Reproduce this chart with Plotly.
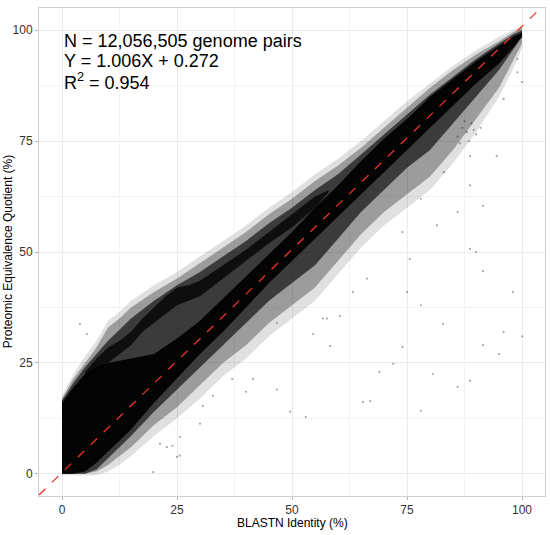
import plotly.graph_objects as go

# Band outlines (x = BLASTN identity %, y = PEQ %)
band_x = [0, 2.5, 5, 7.5, 10, 12.5, 15, 20, 25, 30, 35, 40, 45, 50, 55, 60,
          65, 70, 75, 80, 85, 90, 95, 98, 100]
fringe_hi = [17.5, 22.5, 26.5, 30, 34.5, 36.5, 39, 42.5, 45.5, 49, 52.5, 56,
             60, 63.5, 67.5, 71, 75, 79.5, 84, 88, 92, 95.5, 98.5, 100, 101]
fringe_lo = [-0.3, -0.3, -0.3, -0.3, 0.5, 2, 4, 8.5, 12.5, 17, 22, 26, 31, 35,
             39, 45, 51, 56, 60, 64, 70, 77, 85, 91, 96]
halo_hi = [17, 21.5, 25, 28.5, 33, 35, 37.5, 41, 44, 47.5, 51, 54.5, 58.5, 62,
           66, 69.5, 73.5, 78, 82.5, 87, 91, 94.5, 97.5, 99.5, 100.5]
halo_lo = [0, 0, 0, 0.5, 2, 4, 6, 11, 15, 20, 25, 29, 34, 38, 42, 48, 54, 59,
           63, 67, 73, 80, 87, 93, 97]
mid_hi = [16.5, 20.5, 24, 27, 30, 32.5, 35, 39, 42.5, 45.5, 49, 52.5, 56.5, 60,
          64, 67.5, 72, 76.5, 81, 85.5, 89.5, 93.5, 97, 99, 100]
mid_lo = [0, 0, 0, 1, 3.5, 6, 8.5, 14, 19, 24, 29, 34, 39, 43, 47, 53, 59, 64,
          69, 73, 79, 85, 91, 95.5, 98.5]
core_hi = [16, 19.5, 22.5, 24, 25, 25.5, 26, 27, 30.5, 34.5, 39.5, 44.5, 49.5,
           54.5, 60, 65, 70.5, 75.5, 80, 85, 89, 93, 96.5, 98.5, 99.5]
core_lo = [0, 0, 0.5, 2.5, 5, 7.5, 10, 16, 21.5, 27, 32, 37.5, 43, 48, 53, 58,
           63, 68, 73, 78, 83, 88, 92.5, 96, 98.5]

# upper dark branch above the diagonal
branch_x = [5, 7.5, 10, 12.5, 15, 17.5, 20, 22.5, 25, 27.5, 30, 35, 40, 45, 50, 55, 58]
branch_lo = [21, 23, 25, 27, 29, 32, 34, 36, 38, 39, 40, 44, 48, 52, 55.5, 60, 63.5]
branch_hi = [23, 26, 28.5, 30, 32, 35, 37.5, 40, 42, 42.5, 43.5, 47, 50.5, 54.5,
             58.5, 62.5, 64]

# scattered pairs away from the main band
out_x = [56.7, 46.7, 40, 46.7, 53, 32.8, 30.6, 65.4, 60.4, 63.3, 66.3, 41.5, 37,
         49.6, 58.3, 74, 88.7, 91.5, 95, 96, 69, 67, 78, 57.6, 100, 80.6, 82.8,
         78, 75, 98, 91.5, 86, 54.6, 72, 78, 81.5, 83, 88.7, 94.5, 91.5, 86, 74,
         75.6, 88.7, 90, 96, 99, 100, 99, 25.7, 22.8, 21.3, 30, 25, 19.8, 24,
         25.6, 3.9, 5.4, 86, 87, 88, 89, 90, 88.5, 87.5, 89.5, 86.5, 91, 88.7]
out_y = [35, 34, 18.5, 19, 12.8, 17.6, 15.3, 16.2, 35.6, 41, 44, 21.4, 21.4, 14,
         28.8, 28.6, 21, 29, 27, 32, 23, 16.4, 14.2, 35, 31, 22.5, 33.8, 38, 41,
         41, 45.7, 19.6, 31.5, 24.8, 62, 56, 68, 65, 71.6, 60.4, 59, 54.5, 48.4,
         50.7, 50, 84.5, 90.5, 88.3, 93.5, 8.3, 6, 6.8, 11.3, 3.8, 0.4, 6.3, 4.1,
         33.8, 31.5, 76, 78, 77, 79, 76.5, 75, 79.5, 77.5, 74.5, 78, 71.6]

fit_slope = 1.006
fit_intercept = 0.272
axis_ticks = [0, 25, 50, 75, 100]


def band_trace(xs, lo, hi, alpha):
    return go.Scatter(
        x=list(xs) + list(xs)[::-1],
        y=list(hi) + list(lo)[::-1],
        mode="lines",
        fill="toself",
        fillcolor=f"rgba(0,0,0,{alpha})",
        line=dict(width=0),
        hoverinfo="skip",
        showlegend=False,
    )


fig = go.Figure()
fig.add_trace(band_trace(band_x, fringe_lo, fringe_hi, 0.12))
fig.add_trace(band_trace(band_x, halo_lo, halo_hi, 0.3))
fig.add_trace(band_trace(band_x, mid_lo, mid_hi, 0.62))
fig.add_trace(band_trace(branch_x, branch_lo, branch_hi, 0.75))
fig.add_trace(band_trace(band_x, core_lo, core_hi, 0.93))

fig.add_trace(go.Scatter(
    x=out_x, y=out_y, mode="markers",
    marker=dict(size=2.2, color="rgba(0,0,0,0.35)"),
    hoverinfo="skip", showlegend=False,
))

# regression line
line_x = [-5, 105]
fig.add_trace(go.Scatter(
    x=line_x, y=[fit_slope * v + fit_intercept for v in line_x],
    mode="lines", line=dict(color="#e8352a", width=1.3, dash="dash"),
    hoverinfo="skip", showlegend=False,
))

axis_style = dict(
    range=[-5, 105],
    tickvals=axis_ticks,
    ticks="outside", ticklen=3, tickcolor="#b3b3b3",
    tickfont=dict(family="Liberation Sans, Arial", size=12, color="#333333"),
    showgrid=True, gridcolor="#ebebeb", gridwidth=1,
    minor=dict(tickvals=[12.5, 37.5, 62.5, 87.5], showgrid=True,
               gridcolor="#f4f4f4", gridwidth=1),
    zeroline=False,
    showline=True, linecolor="#d0d0d0", linewidth=1, mirror=True,
    automargin=False,
)

fig.update_layout(
    width=550, height=535,
    margin=dict(l=39, r=5, t=8, b=39),
    plot_bgcolor="white", paper_bgcolor="white",
    xaxis=axis_style, yaxis=axis_style,
    font=dict(family="Liberation Sans, Arial", color="black", size=12),
)

stats_lines = ["N = 12,056,505 genome pairs", "Y = 1.006X + 0.272", "R<sup>2</sup> = 0.954"]
for txt, yv in zip(stats_lines, [97.5, 93, 88.5]):
    fig.add_annotation(x=0, y=yv, xref="x", yref="y", text=txt, showarrow=False,
                       xanchor="left", yanchor="middle",
                       font=dict(size=18, color="black"))

fig.add_annotation(x=0.5, y=-0.055, xref="paper", yref="paper",
                   text="BLASTN Identity (%)", showarrow=False,
                   xanchor="center", yanchor="middle", font=dict(size=12))
fig.add_annotation(x=-0.061, y=0.5, xref="paper", yref="paper",
                   text="Proteomic Equivalence Quotient (%)", showarrow=False,
                   textangle=-90, xanchor="center", yanchor="middle",
                   font=dict(size=12))

# the page's default body margin would shift the figure by 8px
fig.write_html("out.html", config={"displayModeBar": False},
               post_script="document.body.style.margin='0px';")
